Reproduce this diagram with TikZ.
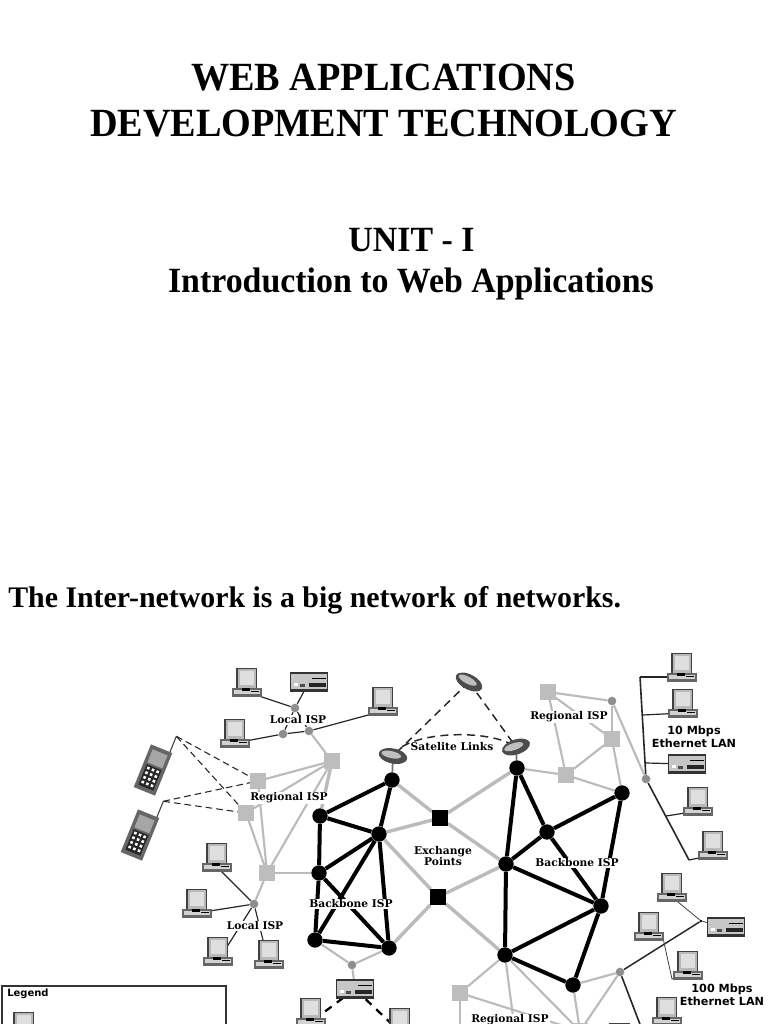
\documentclass[tikz,border=0pt]{standalone}
\usepackage{fontspec}
\setmainfont{Liberation Serif}
\newfontfamily\narrowhead{Liberation Serif}[FakeStretch=0.955]
\newfontfamily\netserif{DejaVu Serif}
\newfontfamily\netsans{DejaVu Sans}
\usetikzlibrary{backgrounds}
\definecolor{feedgray}{HTML}{BBBBBB}
\definecolor{squaregray}{HTML}{BDBDBD}
\definecolor{dotgray}{HTML}{8E8E8E}
\tikzset{
  backbone/.style={draw=black,line width=3pt},
  peering/.style={draw=feedgray,line width=2.6pt},
  feeder/.style={draw=feedgray,line width=1.6pt},
  lanwire/.style={draw=black!85,line width=0.9pt},
  lanthin/.style={draw=black!75,line width=0.6pt},
  radio/.style={draw=black!85,line width=0.8pt,dash pattern=on 5pt off 3pt},
  satlink/.style={draw=black!85,line width=1.1pt,dash pattern=on 6pt off 4pt},
  droplink/.style={draw=black,line width=1.7pt,dash pattern=on 6pt off 5pt},
  corehub/.style={circle,fill=black,inner sep=0pt,minimum size=11.5pt},
  exchange/.style={rectangle,fill=black,inner sep=0pt,minimum size=11.5pt},
  regional/.style={rectangle,fill=squaregray,inner sep=0pt,minimum size=11.5pt},
  localdot/.style={circle,fill=dotgray,inner sep=0pt,minimum size=6.5pt},
  tinydot/.style={circle,fill=black,inner sep=0pt,minimum size=2pt},
  nettext/.style={fill=white,inner sep=0.6pt,font=\netserif\bfseries\fontsize{8pt}{8.6pt}\selectfont,align=center},
  lantext/.style={inner sep=0.6pt,font=\netsans\bfseries\fontsize{8.4pt}{9.8pt}\selectfont,align=center},
  headline/.style={inner sep=0pt,anchor=base,font=\narrowhead\bfseries\fontsize{#1}{#1}\selectfont},
  pc/.pic={
    \fill[black!75] (-11,-14) rectangle (10,6);
    \fill[gray!55] (-9,-13) rectangle (9,6);
    \fill[gray!25] (-7,-11) rectangle (7,3);
    \fill[white!40!black] (-15,6) rectangle (14.5,14.5);
    \fill[gray!35] (-13.5,7.5) rectangle (13,12);
    \fill[black] (-5,6) rectangle (3,8.5);
    \draw[black,line width=0.6pt] (4,9.5) -- (12,9.5);
    \coordinate (-port) at (0,10);
  },
  router/.pic={
    \fill[black!80] (-19,-10) rectangle (19,10);
    \fill[gray!45] (-18,-8) rectangle (18,7);
    \fill[black!85] (0,1) rectangle (17,5);
    \draw[black,line width=0.7pt] (3,-4) -- (17,-4);
    \fill[white] (-15,1) rectangle (-11,4);
    \fill[black!70] (-9,2) rectangle (-4,5);
    \coordinate (-port) at (0,0);
  },
  dish/.pic={
    \fill[black!70] (0,0) ellipse (14.5 and 7.5);
    \fill[gray!50] (-2,-1) ellipse (10 and 3.5);
    \coordinate (-port) at (0,0);
  },
  handset/.pic={
    \draw[black!75,line width=0.8pt] (9,-23) -- (9,-40);
    \fill[black!60] (-11.5,-23) rectangle (11.5,23);
    \fill[gray!70] (-8,-19) rectangle (8,-5);
    \fill[black!85] (-8,-3) rectangle (8,19);
    \foreach \k in {-5,0,5} {
      \foreach \r in {0,5,10,15} {
        \fill[white] (\k-1.3,\r-1.3) rectangle (\k+1.3,\r+1.3);
      }
    }
    \coordinate (-tip) at (9,-40);
  }
}
\begin{document}
\begin{tikzpicture}[x=0.75pt,y=-0.75pt]
  \path[use as bounding box,clip] (0,0) rectangle (768,1024);

  \node[headline=30pt] (titleA) at (383.5,90) {WEB APPLICATIONS};
  \node[headline=30pt] (titleB) at (383.5,136) {DEVELOPMENT TECHNOLOGY};
  \node[headline=26.6pt] (unitA) at (411.5,251) {UNIT - I};
  \node[headline=26.6pt] (unitB) at (411,292) {Introduction to Web Applications};
  \node[inner sep=0pt,anchor=base west,font=\bfseries\fontsize{22.4pt}{24pt}\selectfont] (intro) at (8,607) {The Inter-network is a big network of networks.};

  \node[corehub] (leftA) at (392,780) {};
  \node[corehub] (leftB) at (320,816) {};
  \node[corehub] (leftC) at (379,834) {};
  \node[corehub] (leftD) at (319,873) {};
  \node[corehub] (leftE) at (315,940) {};
  \node[corehub] (leftF) at (389,948) {};

  \node[corehub] (rightA) at (517,768) {};
  \node[corehub] (rightB) at (622,793) {};
  \node[corehub] (rightC) at (547,832) {};
  \node[corehub] (rightD) at (506,864) {};
  \node[corehub] (rightE) at (601,906) {};
  \node[corehub] (rightF) at (505,955) {};
  \node[corehub] (rightG) at (573,985) {};

  \node[exchange] (exchA) at (440,818) {};
  \node[exchange] (exchB) at (438,897) {};

  \node[regional] (regA) at (332,761) {};
  \node[regional] (regB) at (258,781) {};
  \node[regional] (regC) at (246,813) {};
  \node[regional] (regD) at (267,873) {};
  \node[regional] (regE) at (548,692) {};
  \node[regional] (regF) at (612,739) {};
  \node[regional] (regG) at (566,775) {};
  \node[regional] (regH) at (460,993) {};
  \node[regional] (regI) at (580,1031) {};

  \node[localdot] (dotA) at (295,708) {};
  \node[localdot] (dotB) at (283,734) {};
  \node[localdot] (dotC) at (309,731) {};
  \node[localdot] (dotD) at (254,904) {};
  \node[localdot] (dotE) at (352,965) {};
  \node[localdot] (dotF) at (612,701) {};
  \node[localdot] (dotG) at (646,779) {};
  \node[localdot] (dotH) at (620,972) {};
  \node[tinydot] (dotI) at (701,921) {};

  \pic (pcA) at (247,682) {pc};
  \pic (pcB) at (383,701) {pc};
  \pic (pcC) at (235,733) {pc};
  \pic (pcD) at (217,857) {pc};
  \pic (pcE) at (197,903) {pc};
  \pic (pcF) at (218,951) {pc};
  \pic (pcG) at (269,954) {pc};
  \pic (pcH) at (311,1012) {pc};
  \pic (pcI) at (400,1022) {pc};
  \pic (pcJ) at (682,667) {pc};
  \pic (pcK) at (683,703) {pc};
  \pic (pcL) at (698,801) {pc};
  \pic (pcM) at (713,845) {pc};
  \pic (pcN) at (672,887) {pc};
  \pic (pcO) at (649,926) {pc};
  \pic (pcP) at (688,965) {pc};
  \pic (pcQ) at (667,1011) {pc};
  \pic (pcR) at (620,1037) {pc};
  \pic (pcS) at (24,1026) {pc};

  \pic (boxA) at (309,682) {router};
  \pic (boxB) at (355,989) {router};
  \pic (boxC) at (687,764) {router};
  \pic (boxD) at (726,927) {router};

  \pic[rotate=-12] (dishA) at (393,756) {dish};
  \pic[rotate=-28] (dishB) at (469,682) {dish};
  \pic[rotate=18] (dishC) at (516,747) {dish};

  \pic[rotate=-22] (phoneA) at (153,770) {handset};
  \pic[rotate=-22] (phoneB) at (140,835) {handset};

  \coordinate (lanTop) at (640,677);
  \coordinate (lanJ) at (643,715);
  \coordinate (lanK) at (646,763);
  \coordinate (lanL) at (666,816);
  \coordinate (lanBend) at (689,860);
  \coordinate (hopTop) at (663,938);
  \coordinate (hopBend) at (672,979);
  \coordinate (lanDrop) at (646,1040);
  \coordinate (regDrop) at (516,1040);
  \coordinate (regFoot) at (460,1040);

  \begin{scope}[on background layer]
    \draw[backbone] (leftA) -- (leftB);
    \draw[backbone] (leftA) -- (leftC);
    \draw[backbone] (leftB) -- (leftC);
    \draw[backbone] (leftB) -- (leftD);
    \draw[backbone] (leftC) -- (leftD);
    \draw[backbone] (leftD) -- (leftE);
    \draw[backbone] (leftD) -- (leftF);
    \draw[backbone] (leftC) -- (leftE);
    \draw[backbone] (leftC) -- (leftF);
    \draw[backbone] (leftE) -- (leftF);

    \draw[backbone] (rightA) -- (rightC);
    \draw[backbone] (rightA) -- (rightD);
    \draw[backbone] (rightB) -- (rightC);
    \draw[backbone] (rightB) -- (rightE);
    \draw[backbone] (rightC) -- (rightD);
    \draw[backbone] (rightC) -- (rightE);
    \draw[backbone] (rightD) -- (rightE);
    \draw[backbone] (rightD) -- (rightF);
    \draw[backbone] (rightE) -- (rightF);
    \draw[backbone] (rightE) -- (rightG);
    \draw[backbone] (rightF) -- (rightG);

    \draw[peering] (leftA) -- (exchA);
    \draw[peering] (leftC) -- (exchA);
    \draw[peering] (leftC) -- (exchB);
    \draw[peering] (leftF) -- (exchB);
    \draw[peering] (rightA) -- (exchA);
    \draw[peering] (rightD) -- (exchA);
    \draw[peering] (rightD) -- (exchB);
    \draw[peering] (rightF) -- (exchB);
    \draw[peering] (regA) -- (leftB);

    \draw[feeder] (regA) -- (regB);
    \draw[feeder] (regA) -- (regC);
    \draw[feeder] (regA) -- (regD);
    \draw[feeder] (regB) -- (regD);
    \draw[feeder] (regC) -- (regD);
    \draw[feeder] (regD) -- (leftD);
    \draw[feeder] (regA) -- (dotC);
    \draw[feeder] (regD) -- (dotD);
    \draw[feeder] (leftE) -- (dotE);
    \draw[feeder] (leftF) -- (dotE);
    \draw[feeder] (dotE) -- (boxB-port);
    \draw[feeder] (regE) -- (dotF);
    \draw[feeder] (regE) -- (regF);
    \draw[feeder] (regE) -- (regG);
    \draw[feeder] (regG) -- (regF);
    \draw[feeder] (dotF) -- (regF);
    \draw[feeder] (regF) -- (rightB);
    \draw[feeder] (regG) -- (rightA);
    \draw[feeder] (regG) -- (rightB);
    \draw[feeder] (dotF) -- (dotG);
    \draw[feeder] (rightF) -- (regH);
    \draw[feeder] (rightF) -- (regI);
    \draw[feeder] (rightF) -- (regDrop);
    \draw[feeder] (regH) -- (regI);
    \draw[feeder] (regH) -- (regFoot);
    \draw[feeder] (rightG) -- (regI);
    \draw[feeder] (rightG) -- (dotH);
    \draw[feeder] (dotH) -- (regI);
    \draw[peering,line width=1.3pt,draw=black!55] (dishA-port) -- (leftA);
    \draw[peering,line width=1.3pt,draw=black!55] (dishC-port) -- (rightA);

    \draw[lanwire] (dotA) -- (pcA-port);
    \draw[lanwire] (dotA) -- (boxA-port);
    \draw[lanwire] (dotA) -- (dotB);
    \draw[lanwire] (dotA) -- (dotC);
    \draw[lanwire] (dotB) -- (pcC-port);
    \draw[lanwire] (dotB) -- (dotC);
    \draw[lanwire] (dotC) -- (pcB-port);
    \draw[lanwire] (dotD) -- (pcD-port);
    \draw[lanwire] (dotD) -- (pcE-port);
    \draw[lanwire] (dotD) -- (pcF-port);
    \draw[lanwire] (dotD) -- (pcG-port);

    \draw[lanwire,line width=1.2pt] (lanTop) -- (dotG) -- (lanBend);
    \draw[lanwire] (lanTop) -- (pcJ-port);
    \draw[lanwire] (lanJ) -- (pcK-port);
    \draw[lanwire] (lanK) -- (boxC-port);
    \draw[lanwire] (lanL) -- (pcL-port);
    \draw[lanwire] (lanBend) -- (pcM-port);

    \draw[lanthin] (dotI) -- (pcN-port);
    \draw[lanthin] (dotI) -- (boxD-port);
    \draw[lanwire,line width=1.1pt] (dotH) -- (dotI);
    \draw[lanthin] (hopTop) -- (hopBend) -- (pcP-port);
    \draw[lanwire,line width=1.2pt] (dotH) -- (lanDrop);

    \draw[droplink] (boxB-port) -- (pcH-port);
    \draw[droplink] (boxB-port) -- (pcI-port);

    \draw[radio] (phoneA-tip) -- (regB);
    \draw[radio] (phoneA-tip) -- (regC);
    \draw[radio] (phoneB-tip) -- (regB);
    \draw[radio] (phoneB-tip) -- (regC);

    \draw[satlink] (dishB-port) -- (dishA-port);
    \draw[satlink] (dishB-port) -- (dishC-port);
    \draw[satlink] (dishA-port) .. controls (405,731) and (490,728) .. (dishC-port);
  \end{scope}

  \node[nettext] (localA) at (298,720) {Local ISP};
  \node[nettext] (localB) at (255,926) {Local ISP};
  \node[nettext] (regionA) at (289,798) {Regional ISP};
  \node[nettext] (regionB) at (569,717) {Regional ISP};
  \node[nettext] (regionC) at (510,1020) {Regional ISP};
  \node[nettext] (coreA) at (351,904) {Backbone ISP};
  \node[nettext] (coreB) at (577,863) {Backbone ISP};
  \node[nettext] (peerText) at (443,856) {Exchange\\Points};
  \node[nettext] (satText) at (452,747) {Satelite Links};
  \node[lantext] (lanA) at (694,737) {10 Mbps\\Ethernet LAN};
  \node[lantext] (lanB) at (722,995) {100 Mbps\\Ethernet LAN};

  \draw[black!80,line width=0.8pt] (2,986) rectangle (226,1050);
  \node[inner sep=0pt,anchor=base west,font=\netsans\bfseries\fontsize{7.5pt}{8pt}\selectfont] (legendText) at (7,996) {Legend};
\end{tikzpicture}
\end{document}
